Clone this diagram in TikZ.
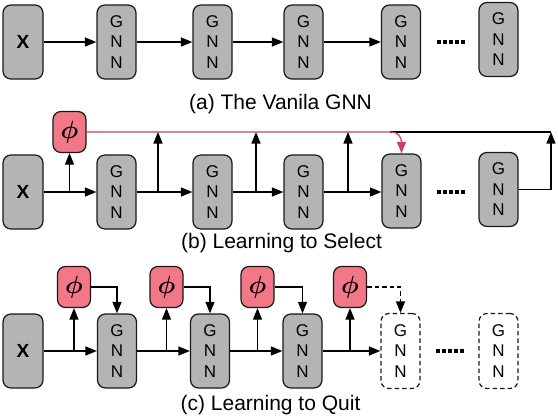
\documentclass[tikz,border=0pt]{standalone}
\usepackage{fontspec}
\setmainfont{Liberation Sans}
\usepackage{bm}
\usetikzlibrary{arrows.meta}
\definecolor{boxgray}{RGB}{180,180,180}
\definecolor{phipink}{RGB}{242,120,136}
\definecolor{selred}{RGB}{200,65,95}
\begin{document}
\begin{tikzpicture}[x=1pt,y=-1pt, line width=1.25pt,
 blk/.style={draw=black!90, rounded corners=8pt, minimum width=39pt, minimum height=74pt, inner sep=0pt, align=center, font=\fontsize{17}{20.5}\selectfont},
 gnn/.style={blk, fill=boxgray},
 ghost/.style={blk, dash pattern=on 4.5pt off 3pt},
 xin/.style={blk, fill=boxgray, minimum width=40pt, font=\fontsize{19}{22}\selectfont\bfseries},
 phibox/.style={draw=black!90, fill=phipink, rounded corners=8pt, minimum width=33pt, minimum height=41pt, inner sep=0pt, font=\fontsize{23}{24}\selectfont},
 arr/.style={solid, line width=1.25pt, -{Triangle[length=11.5pt,width=9pt]}},
 dasharr/.style={arr, dash pattern=on 4.5pt off 3pt},
 captxt/.style={font=\fontsize{21}{24}\selectfont},
 dotline/.style={solid, line width=3.5pt, dash pattern=on 3.5pt off 2.6pt}]
\useasboundingbox (0,0) rectangle (558,418);

% ---------- (a)
\node[xin] (xa) at (23,42) {X};
\node[gnn] (a1) at (116.5,42) {G\\N\\N};
\node[gnn] (a2) at (212.5,42) {G\\N\\N};
\node[gnn] (a3) at (303.5,42) {G\\N\\N};
\node[gnn] (a4) at (401,42) {G\\N\\N};
\node[gnn] (a5) at (498.5,39.5) {G\\N\\N};
\draw[arr] (xa) -- (a1);
\draw[arr] (a1) -- (a2);
\draw[arr] (a2) -- (a3);
\draw[arr] (a3) -- (a4);
\coordinate (da1) at (437,42);
\coordinate (da2) at (467,42);
\draw[dotline] (da1) -- (da2);
\node[captxt] (capa) at (280.5,104) {(a) The Vanila GNN};

% ---------- (b)
\node[phibox] (pb) at (69.5,132) {$\bm{\phi}$};
\node[xin] (xb) at (23,192) {X};
\node[gnn] (b1) at (116.5,192) {G\\N\\N};
\node[gnn] (b2) at (212.5,192) {G\\N\\N};
\node[gnn] (b3) at (303.5,192) {G\\N\\N};
\node[gnn] (b4) at (401.5,191) {G\\N\\N};
\node[gnn] (b5) at (498.5,189.5) {G\\N\\N};
\draw[arr] (xb) -- (b1);
\draw[arr] (b1) -- (b2);
\draw[arr] (b2) -- (b3);
\draw[arr] (b3.east) -- (b3.east -| b4.west);
\coordinate (jb0) at (69.5,192);
\coordinate (jb1) at (158,192);
\coordinate (jb2) at (256,192);
\coordinate (jb3) at (348,192);
\coordinate (tb1) at (158,132);
\coordinate (tb2) at (256,132);
\coordinate (tb3) at (348,132);
\draw[arr] (jb0) -- (pb);
\draw[arr] (jb1) -- (tb1);
\draw[arr] (jb2) -- (tb2);
\draw[arr] (jb3) -- (tb3);
\coordinate (tb0) at (390,132);
\coordinate (eb1) at (551,189.5);
\coordinate (eb2) at (551,132);
\draw (tb0) -- (eb2);
\draw[arr] (b5.east) -- (eb1) -- (eb2);
\draw[arr, selred, rounded corners=10pt] (pb.east) -| (b4.north);
\coordinate (db1) at (437,192);
\coordinate (db2) at (467,192);
\draw[dotline] (db1) -- (db2);
\node[captxt] (capb) at (281.5,243) {(b) Learning to Select};

% ---------- (c)
\node[phibox] (pc1) at (74,287) {$\bm{\phi}$};
\node[phibox] (pc2) at (166.5,287) {$\bm{\phi}$};
\node[phibox] (pc3) at (257.5,287) {$\bm{\phi}$};
\node[phibox] (pc4) at (350,287) {$\bm{\phi}$};
\node[xin] (xc) at (23,351) {X};
\node[gnn] (c1) at (117,351) {G\\N\\N};
\node[gnn] (c2) at (210,351) {G\\N\\N};
\node[gnn] (c3) at (302.5,351) {G\\N\\N};
\node[ghost, minimum height=75pt] (c4) at (400.5,351) {G\\N\\N};
\node[ghost, minimum height=75pt] (c5) at (498.5,351) {G\\N\\N};
\draw[arr] (xc.east) -- (c1.west);
\draw[arr] (c1.east) -- (c2.west);
\draw[arr] (c2.east) -- (c3.west);
\draw[arr] (c3.east) -- (c4.west);
\coordinate (jc1) at (74,351);
\coordinate (jc2) at (166.5,351);
\coordinate (jc3) at (257.5,351);
\coordinate (jc4) at (350,351);
\draw[arr] (jc1) -- (pc1.south);
\draw[arr] (jc2) -- (pc2.south);
\draw[arr] (jc3) -- (pc3.south);
\draw[arr] (jc4) -- (pc4.south);
\draw[arr] (pc1.east) -| (c1.north);
\draw[arr] (pc2.east) -| (c2.north);
\draw[arr] (pc3.east) -| (c3.north);
\draw[dasharr] (pc4.east) -| (c4.north);
\coordinate (dc1) at (436,351);
\coordinate (dc2) at (466,351);
\draw[dotline] (dc1) -- (dc2);
\node[captxt] (capc) at (270.5,405) {(c) Learning to Quit};
\end{tikzpicture}
\end{document}
